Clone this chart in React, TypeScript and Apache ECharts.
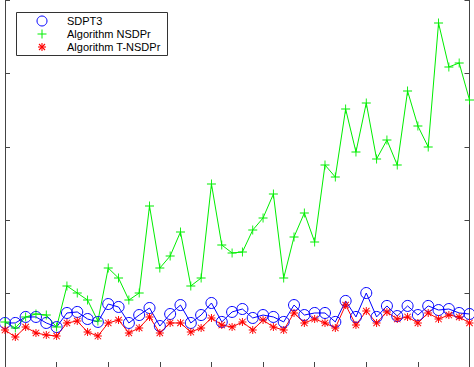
import React, { useEffect, useRef } from "react";
import * as echarts from "echarts";

const xValues = Array.from({ length: 46 }, (_, i) => 5 + i);
const seriesNames = ["SDPT3", "Algorithm NSDPr", "Algorithm T-NSDPr"];
const sdpt3 = [30.0,30.0,34.1,34.1,30.0,27.2,36.8,37.5,32.7,30.7,42.9,40.9,30.0,35.4,40.2,27.9,36.1,42.2,30.0,35.4,43.6,30.7,37.5,39.5,33.4,35.4,34.1,30.7,42.2,35.4,36.8,36.8,30.7,45.0,34.1,50.4,34.1,41.6,34.7,41.6,35.4,41.6,38.8,39.5,36.8,36.1];
const nsdpr = [30.7,26.6,34.1,36.1,35.4,27.2,55.2,50.4,45.6,31.3,67.4,60.6,45.6,50.4,109.7,67.4,75.6,92.0,55.2,60.6,124.7,83.1,77.7,78.3,93.3,101.5,117.8,60.6,88.6,104.9,85.2,137.6,129.4,175.7,146.5,179.8,141.7,154.6,137.6,188.0,164.2,149.9,234.3,204.4,207.1,181.9];
const tnsdpr = [25.2,20.4,27.2,23.2,21.8,21.1,30.0,31.3,23.8,21.1,30.0,32.0,23.2,26.6,34.1,23.2,30.0,30.0,23.8,26.6,33.4,28.6,27.2,30.7,25.2,32.0,27.2,25.2,36.8,30.0,32.7,30.0,26.6,42.2,28.6,38.1,30.0,37.5,32.7,34.1,30.0,36.8,32.7,35.4,34.1,30.0];

const BLUE = "#0000ff";
const GREEN = "#00ee00";
const RED = "#ff0000";

const PLUS = "path://M4.5,0h1v10h-1z M0,4.5h10v1h-10z";
const STAR =
  "path://M4.4,0h1.2v10h-1.2z M0,4.4h10v1.2h-10z M1.4,0.6L9.4,8.6L8.6,9.4L0.6,1.4z M8.6,0.6L9.4,1.4L1.4,9.4L0.6,8.6z";

export default function App() {
  const ref = useRef<HTMLDivElement>(null);
  useEffect(() => {
    if (!ref.current) return;
    const chart = echarts.init(ref.current, null, { renderer: "svg" });
    const axisCommon = {
      axisLine: { show: true, lineStyle: { color: "#444", width: 1 } },
      axisTick: { show: true, inside: true, length: 5, lineStyle: { color: "#444" } },
      axisLabel: { show: false },
      splitLine: { show: false },
    };
    const xAx = (pos: string) => ({
      type: "value",
      position: pos,
      min: 5,
      max: 50,
      interval: 5,
      ...axisCommon,
    });
    const yAx = (pos: string) => ({
      type: "value",
      position: pos,
      min: 0,
      max: 250,
      interval: 50,
      ...axisCommon,
    });
    const mk = (vals: number[]) => vals.map((v, i) => [xValues[i], v]);
    const lx = 42;
    chart.setOption({
      animation: false,
      grid: { left: 5, right: 4.5, top: 0, bottom: 0, containLabel: false },
      xAxis: [xAx("bottom"), xAx("top")],
      yAxis: [yAx("left"), yAx("right")],
      series: [
        {
          name: seriesNames[0],
          type: "line",
          data: mk(sdpt3),
          symbol: "circle",
          symbolSize: 11,
          lineStyle: { color: BLUE, width: 1 },
          itemStyle: { color: "rgba(0,0,0,0)", borderColor: BLUE, borderWidth: 1 },
        },
        {
          name: seriesNames[1],
          type: "line",
          data: mk(nsdpr),
          symbol: PLUS,
          symbolSize: 9,
          lineStyle: { color: GREEN, width: 1 },
          itemStyle: { color: GREEN, borderWidth: 0 },
        },
        {
          name: seriesNames[2],
          type: "line",
          data: mk(tnsdpr),
          symbol: STAR,
          symbolSize: 8,
          lineStyle: { color: RED, width: 1 },
          itemStyle: { color: RED, borderWidth: 0 },
        },
      ],
      graphic: [
        {
          type: "rect",
          shape: { x: 16.5, y: 12.5, width: 151, height: 43 },
          style: { fill: "#fff", stroke: "#333", lineWidth: 1 },
          z: 100,
        },
        {
          type: "circle",
          shape: { cx: lx, cy: 21, r: 5 },
          style: { fill: "none", stroke: BLUE, lineWidth: 1 },
          z: 101,
        },
        { type: "line", shape: { x1: lx - 4.5, y1: 34, x2: lx + 4.5, y2: 34 }, style: { stroke: GREEN, lineWidth: 1 }, z: 101 },
        { type: "line", shape: { x1: lx, y1: 29.5, x2: lx, y2: 38.5 }, style: { stroke: GREEN, lineWidth: 1 }, z: 101 },
        { type: "line", shape: { x1: lx - 4, y1: 47, x2: lx + 4, y2: 47 }, style: { stroke: RED, lineWidth: 1.1 }, z: 101 },
        { type: "line", shape: { x1: lx, y1: 43, x2: lx, y2: 51 }, style: { stroke: RED, lineWidth: 1.1 }, z: 101 },
        { type: "line", shape: { x1: lx - 3, y1: 44, x2: lx + 3, y2: 50 }, style: { stroke: RED, lineWidth: 1.1 }, z: 101 },
        { type: "line", shape: { x1: lx + 3, y1: 44, x2: lx - 3, y2: 50 }, style: { stroke: RED, lineWidth: 1.1 }, z: 101 },
        ...seriesNames.map((n, i) => ({
          type: "text",
          x: 67,
          y: 21 + i * 13,
          z: 101,
          style: {
            text: n,
            fill: "#000",
            font: "11px 'Liberation Sans', Arial, sans-serif",
            verticalAlign: "middle",
            align: "left",
          },
        })),
      ],
    });
    return () => chart.dispose();
  }, []);
  return (
    <div
      ref={ref}
      style={{ position: "fixed", left: 0, top: 0, width: 474, height: 367, background: "#fff" }}
    />
  );
}
